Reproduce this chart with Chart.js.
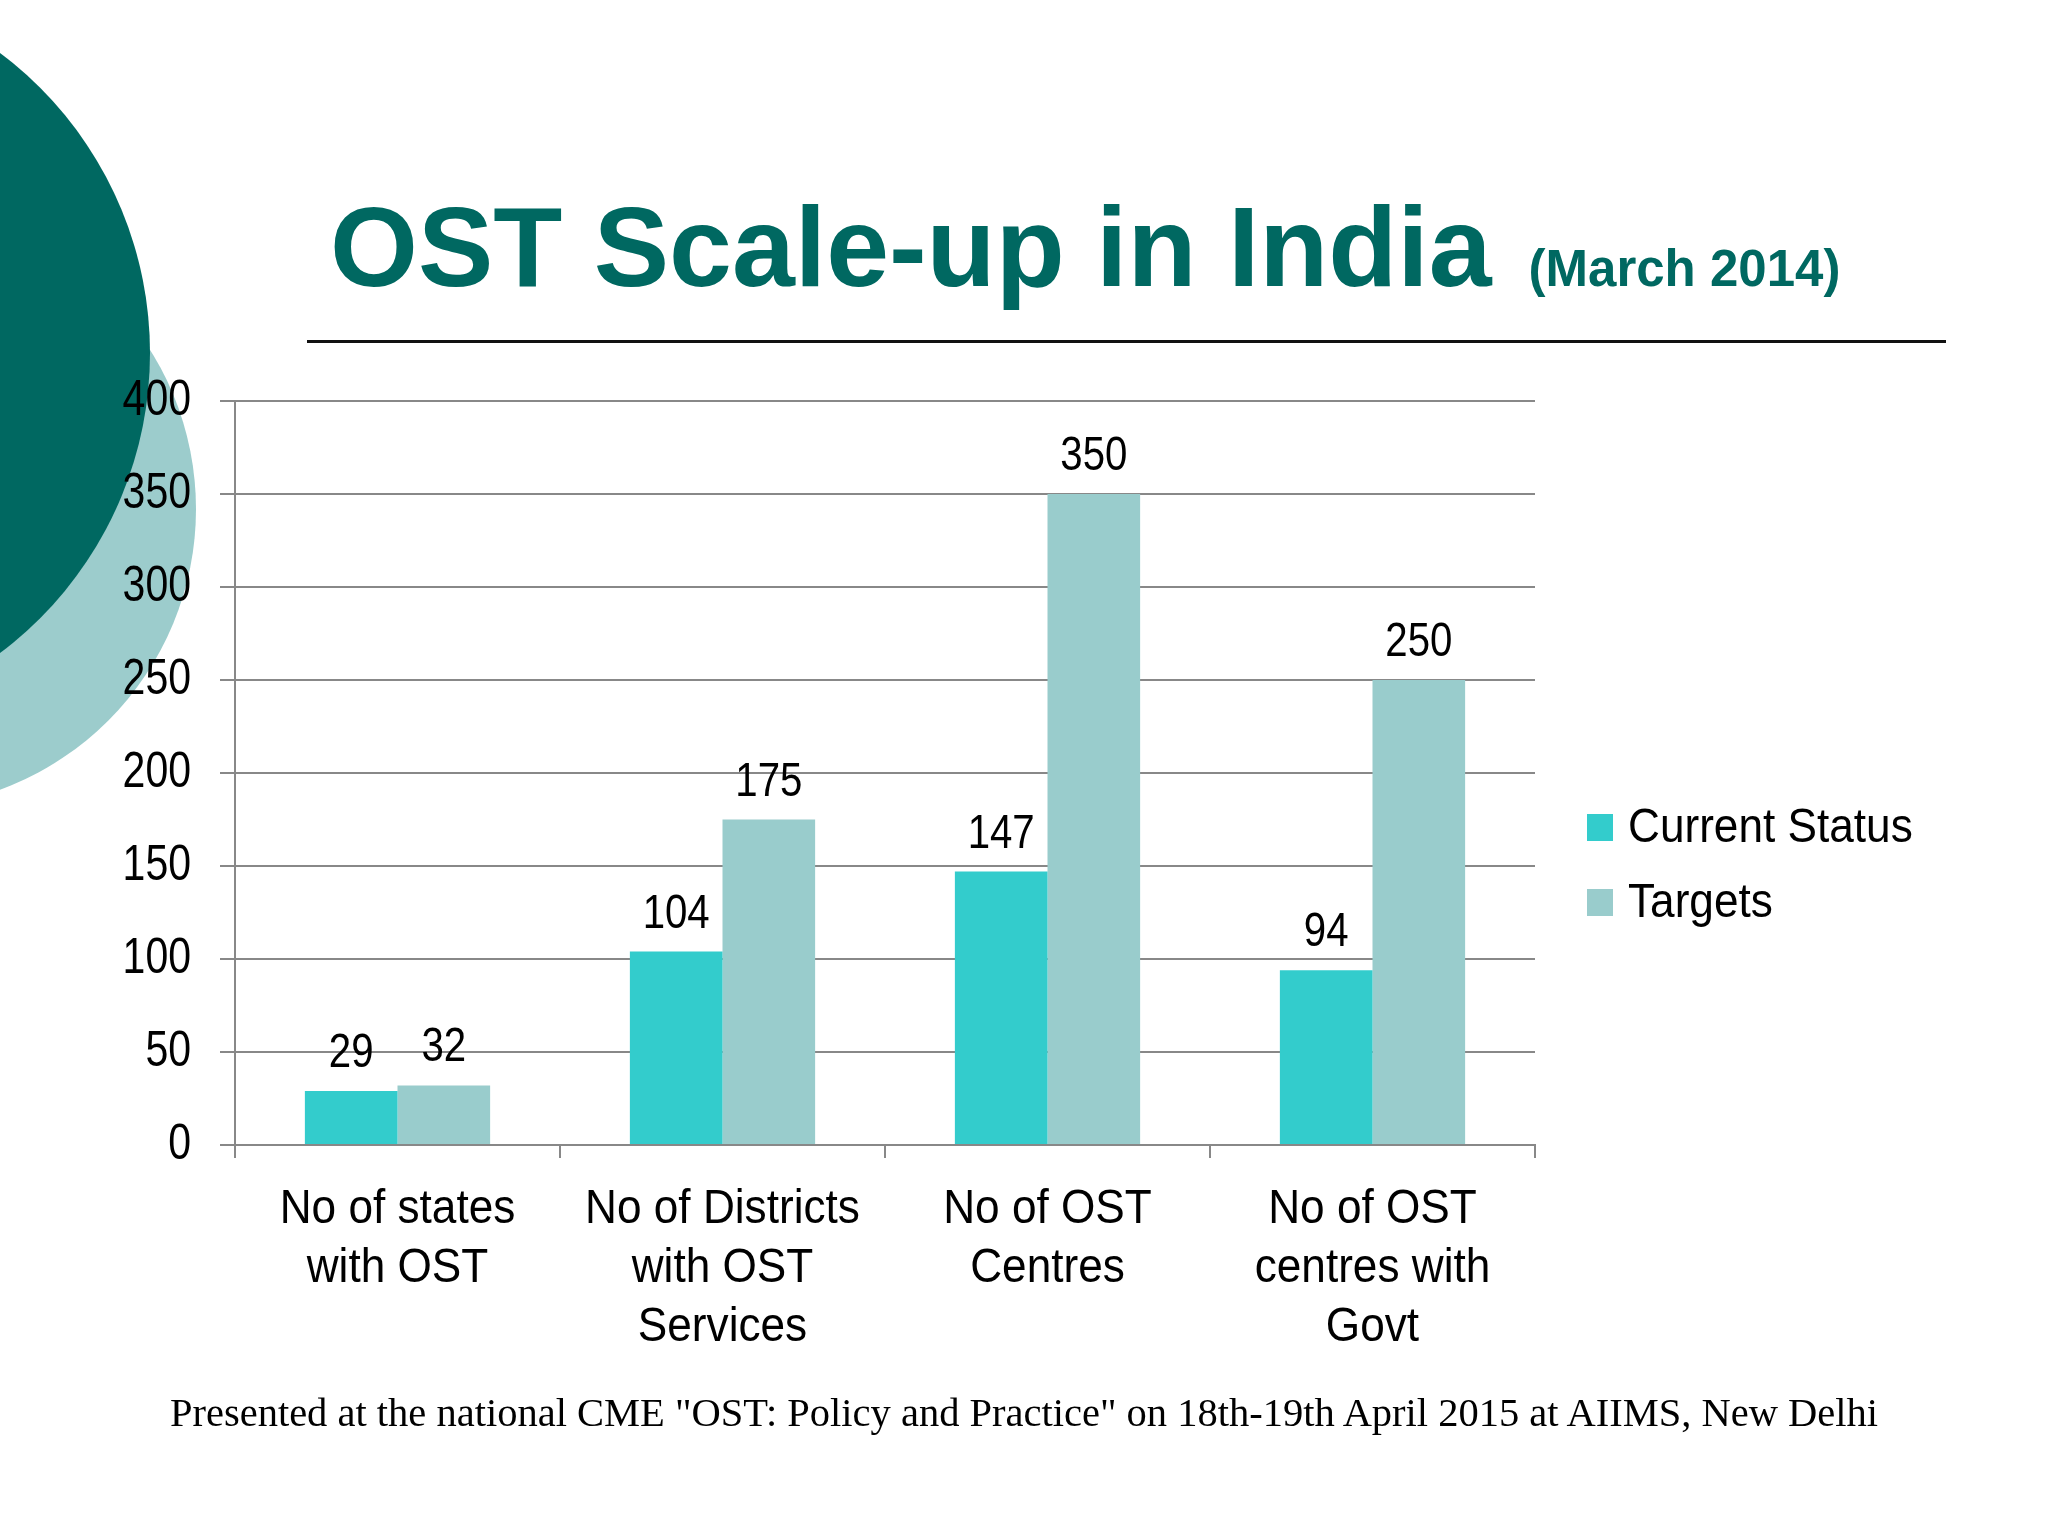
<!DOCTYPE html>
<html>
<head>
<meta charset="utf-8">
<script src="https://cdn.jsdelivr.net/npm/chart.js@4"></script>
<style>
  html, body { margin:0; padding:0; background:#ffffff; }
  body { width:2048px; height:1536px; position:relative; overflow:hidden; font-family:"Liberation Sans",Arial,sans-serif; }
  .circle { position:absolute; border-radius:50%; }
  #c2 { left:-402px; top:210px; width:598px; height:598px; background:#9ccccc; }
  #c1 { left:-600px; top:-22px; width:750px; height:750px; background:#006861; }
  #title { position:absolute; left:330px; top:182px; white-space:nowrap; color:#006861; font-family:"Liberation Sans",Arial,sans-serif; font-weight:bold; font-size:113px; line-height:130px; }
  #title small { font-size:51px; margin-left:37px; }
  #rule { position:absolute; left:307px; top:340px; width:1639px; height:3px; background:#111; }
  #wrap { position:absolute; left:0; top:300px; width:2048px; height:1100px; }
  #legend { position:absolute; left:1587px; top:788px; font-size:48px; color:#000; }
  .li { position:relative; height:75px; line-height:75px; padding-left:41px; white-space:nowrap; }
  .li span.sw { position:absolute; left:0; top:26px; width:26px; height:27px; }
  .li span.tx { display:inline-block; transform:scaleX(0.92); transform-origin:0 50%; }
  #footer { position:absolute; left:0; width:2048px; top:1389px; text-align:center; font-family:"Liberation Serif","Times New Roman",serif; font-size:40.5px; color:#000; white-space:nowrap; }
</style>
</head>
<body>
<div class="circle" id="c2"></div>
<div class="circle" id="c1"></div>
<div id="title">OST Scale-up in India<small>(March 2014)</small></div>
<div id="rule"></div>
<div id="wrap"><canvas id="chart" width="2048" height="1100"></canvas></div>
<div id="legend"></div>
<div id="footer">Presented at the national CME "OST: Policy and Practice" on 18th-19th April 2015 at AIIMS, New Delhi</div>
<script>
const categories = [
  ["No of states", "with OST"],
  ["No of Districts", "with OST", "Services"],
  ["No of OST", "Centres"],
  ["No of OST", "centres with", "Govt"]
];
const seriesNames = ["Current Status", "Targets"];
const currentStatus = [29, 104, 147, 94];
const targets = [32, 175, 350, 250];
const seriesColors = ["#33cccc", "#99cccc"];
const yTicks = [0, 50, 100, 150, 200, 250, 300, 350, 400];

const FONT = '"Liberation Sans",Arial,sans-serif';

// narrow-font look: condense text horizontally around its anchor point
const condense = {
  id: 'condense',
  beforeInit(chart) {
    const ctx = chart.ctx;
    const orig = ctx.fillText.bind(ctx);
    ctx.fillText = function(text, x, y) {
      const s = /^[\d.]+$/.test(String(text)) ? 0.82 : 0.92;
      ctx.save();
      ctx.translate(x, y);
      ctx.scale(s, 1);
      orig(text, 0, 0);
      ctx.restore();
    };
  }
};

const valueLabels = {
  id: 'valueLabels',
  afterDatasetsDraw(chart) {
    const ctx = chart.ctx;
    ctx.save();
    ctx.font = '49px ' + FONT;
    ctx.fillStyle = '#000';
    ctx.textAlign = 'center';
    ctx.textBaseline = 'alphabetic';
    chart.data.datasets.forEach((ds, i) => {
      const meta = chart.getDatasetMeta(i);
      meta.data.forEach((bar, j) => {
        ctx.fillText(String(ds.data[j]), bar.x, bar.y - 24);
      });
    });
    ctx.restore();
  }
};

const chart = new Chart(document.getElementById('chart'), {
  type: 'bar',
  data: {
    labels: categories,
    datasets: [
      { label: seriesNames[0], data: currentStatus, backgroundColor: seriesColors[0] },
      { label: seriesNames[1], data: targets, backgroundColor: seriesColors[1] }
    ]
  },
  options: {
    responsive: false,
    animation: false,
    layout: { padding: { top: 101, right: 513, left: 0, bottom: 0 } },
    datasets: { bar: { categoryPercentage: 0.57, barPercentage: 1.0 } },
    plugins: { legend: { display: false }, tooltip: { enabled: false } },
    scales: {
      x: {
        grid: { display: true, drawOnChartArea: false, drawTicks: true, tickLength: 13, color: '#888888', lineWidth: 2, offset: true },
        border: { display: true, color: '#888888', width: 2 },
        ticks: { color: '#000', font: { family: FONT, size: 48, lineHeight: 1.23 }, padding: 22, maxRotation: 0, autoSkip: false },
        afterFit(scale) { scale.height = 255; }
      },
      y: {
        min: 0, max: 400,
        afterBuildTicks(scale) { scale.ticks = yTicks.map(v => ({ value: v })); },
        grid: { color: '#888888', lineWidth: 2, drawTicks: true, tickLength: 15 },
        border: { display: true, color: '#888888', width: 2 },
        ticks: { color: '#000', font: { family: FONT, size: 50 }, padding: 29 },
        afterFit(scale) { scale.width = 235; }
      }
    }
  },
  plugins: [condense, valueLabels]
});

const legend = document.getElementById('legend');
seriesNames.forEach((n, i) => {
  const d = document.createElement('div');
  d.className = 'li';
  const s = document.createElement('span');
  s.className = 'sw';
  s.style.background = seriesColors[i];
  const t = document.createElement('span');
  t.className = 'tx';
  t.textContent = n;
  d.appendChild(s);
  d.appendChild(t);
  legend.appendChild(d);
});
</script>
</body>
</html>
